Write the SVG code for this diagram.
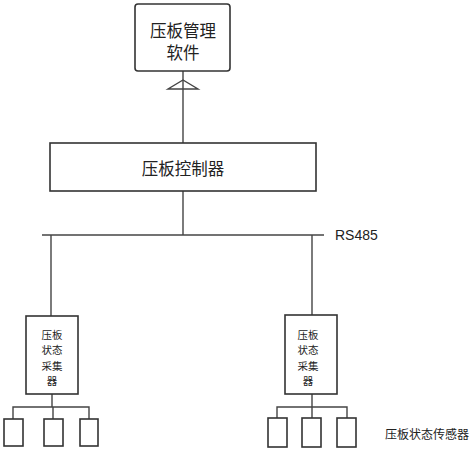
<svg xmlns="http://www.w3.org/2000/svg" width="474" height="451" viewBox="0 0 474 451">
<style>
.box{fill:#fff;stroke:#333;stroke-width:1.6}
.ln{fill:none;stroke:#444;stroke-width:1.4}
text{font-family:"Noto Sans CJK SC","Noto Sans",sans-serif;fill:#222;text-anchor:middle}
.big{font-size:16.5px}
.mid{font-size:10.5px}
.sm{font-size:12px}
</style>
<g id="connectors">
<line class="ln" x1="183" y1="143" x2="183" y2="71"/>
<path class="ln" d="M168,89 L198,89 L183,80 Z" fill="#fff"/>
<line class="ln" x1="183" y1="191" x2="183" y2="235"/>
<line class="ln" x1="42" y1="235" x2="324" y2="235"/>
<line class="ln" x1="51" y1="235" x2="51" y2="316"/>
<line class="ln" x1="312" y1="235" x2="312" y2="315"/>
<path class="ln" d="M52,394 V407 M13,419 V407 H89 V419 M53,407 V419"/>
<path class="ln" d="M312,394 V407 M277,418 V407 H347 V418 M312,407 V418"/>
</g>
<g id="software">
<rect class="box" x="135" y="4" width="95" height="67" rx="3"/>
<text class="big" x="183" y="37">压板管理</text>
<text class="big" x="183" y="59">软件</text>
</g>
<g id="controller">
<rect class="box" x="50" y="143" width="266" height="48"/>
<text class="big" x="183" y="175">压板控制器</text>
</g>
<g id="bus-label">
<text x="335" y="240" style="font-family:'Liberation Sans',Arial,sans-serif;font-size:14px;text-anchor:start">RS485</text>
</g>
<g id="collector-left">
<rect class="box" x="26" y="316" width="52" height="78"/>
<text class="mid" x="52" y="339">压板</text>
<text class="mid" x="52" y="354.3">状态</text>
<text class="mid" x="52" y="369.6">采集</text>
<text class="mid" x="52" y="384.9">器</text>
</g>
<g id="collector-right">
<rect class="box" x="285" y="315" width="52" height="79"/>
<text class="mid" x="308" y="339">压板</text>
<text class="mid" x="308" y="354.3">状态</text>
<text class="mid" x="308" y="369.6">采集</text>
<text class="mid" x="308" y="384.9">器</text>
</g>
<g id="sensors-left">
<rect class="box" x="4" y="419" width="19" height="27"/>
<rect class="box" x="44" y="419" width="19" height="27"/>
<rect class="box" x="80" y="419" width="18" height="27"/>
</g>
<g id="sensors-right">
<rect class="box" x="268" y="418" width="19" height="29"/>
<rect class="box" x="302" y="418" width="19" height="29"/>
<rect class="box" x="337" y="418" width="19" height="29"/>
</g>
<g id="sensor-label">
<text class="sm" x="427" y="439">压板状态传感器</text>
</g>
</svg>
